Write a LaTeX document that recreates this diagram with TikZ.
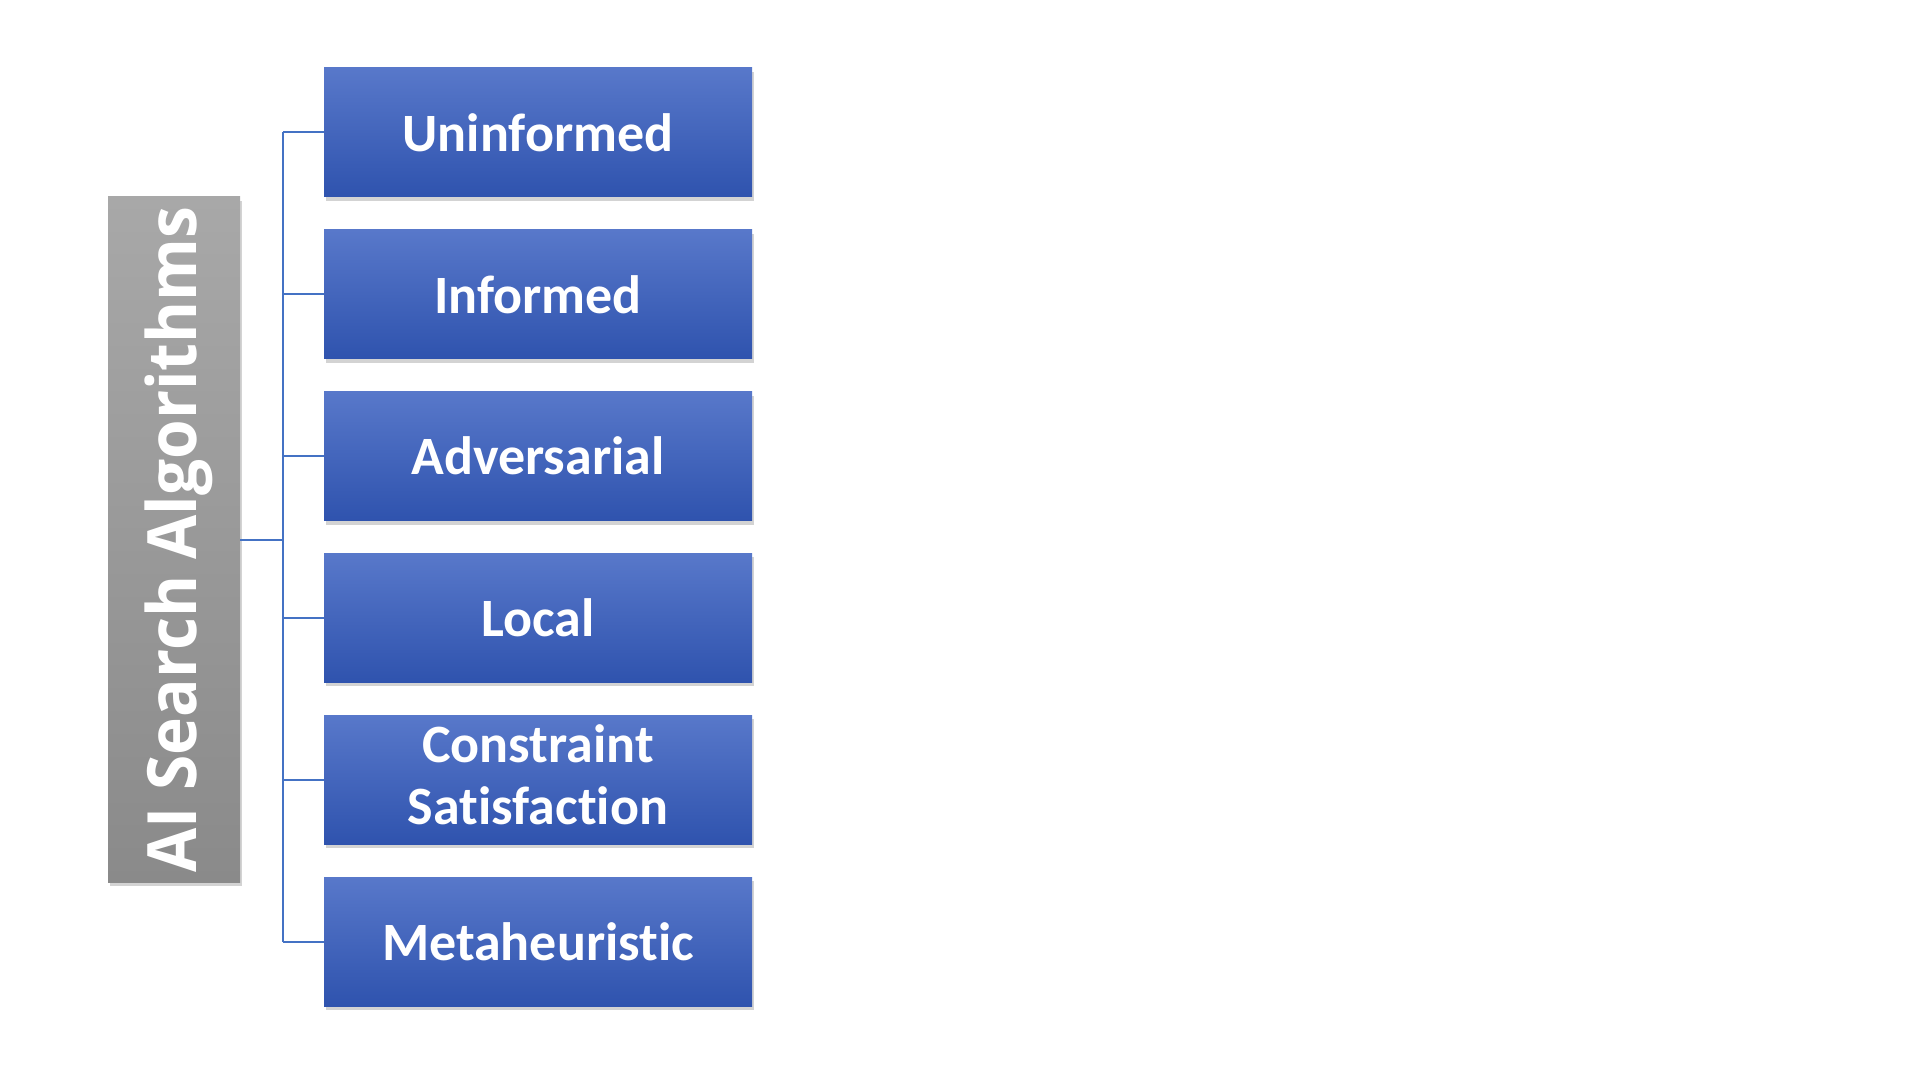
\documentclass[tikz,border=0pt]{standalone}
\usepackage{fontspec}
\setmainfont{Carlito}[Ligatures=NoCommon]
\newfontfamily\rootfont{Open Sans}
\usepackage{tikz}
\usetikzlibrary{positioning,shadows}

\definecolor{boxtop}{RGB}{88,120,202}
\definecolor{boxbot}{RGB}{47,83,174}
\definecolor{greytop}{RGB}{168,168,168}
\definecolor{greybot}{RGB}{138,138,138}
\definecolor{linkblue}{RGB}{68,114,196}

\begin{document}
\begin{tikzpicture}[
        x=0.5pt, y=-0.5pt,
        root/.style={top color=greytop, bottom color=greybot,
            minimum width=66pt, minimum height=342.5pt, inner sep=0pt,
            text=white, font=\rootfont\bfseries\fontsize{34}{40}\selectfont,
            drop shadow={opacity=0.35, shadow xshift=1pt, shadow yshift=-2pt}},
        kind/.style={top color=boxtop, bottom color=boxbot,
            minimum width=214pt, minimum height=64.5pt, inner sep=0pt,
            align=center, text=white,
            font=\bfseries\fontsize{27}{31}\selectfont,
            drop shadow={opacity=0.35, shadow xshift=1pt, shadow yshift=-2pt}},
        link/.style={linkblue, line width=1pt},
    ]
    % frame
    \useasboundingbox (0,0) rectangle (1920,1080);

    % root
    \node[root] (root) at (174,539.5)
        {\rotatebox{90}{\raisebox{-2.25pt}[\height][\depth]{\scalebox{0.942}[1]{AI Search Algorithms}}}};

    % kinds
    \node[kind] (uninf) at (538,132.5) {Uninformed};
    \node[kind, below=16pt of uninf] (inf) {Informed};
    \node[kind, below=16pt of inf] (adv) {Adversarial};
    \node[kind, below=16pt of adv] (local) {Local};
    \node[kind, below=16pt of local] (csp)
        {\raisebox{-0.5pt}[\height][\depth]{\begin{tabular}{@{}c@{}}Constraint\\Satisfaction\end{tabular}}};
    \node[kind, below=16pt of csp] (meta) {Metaheuristic};

    % tree lines
    \draw[link] (root.east) -- ++(43,0) coordinate (trunk);
    \draw[link] (trunk |- uninf.west) -- (trunk |- meta.west);
    \foreach \k in {uninf,inf,adv,local,csp,meta}
        \draw[link] (trunk |- \k.west) -- (\k.west);
\end{tikzpicture}
\end{document}
